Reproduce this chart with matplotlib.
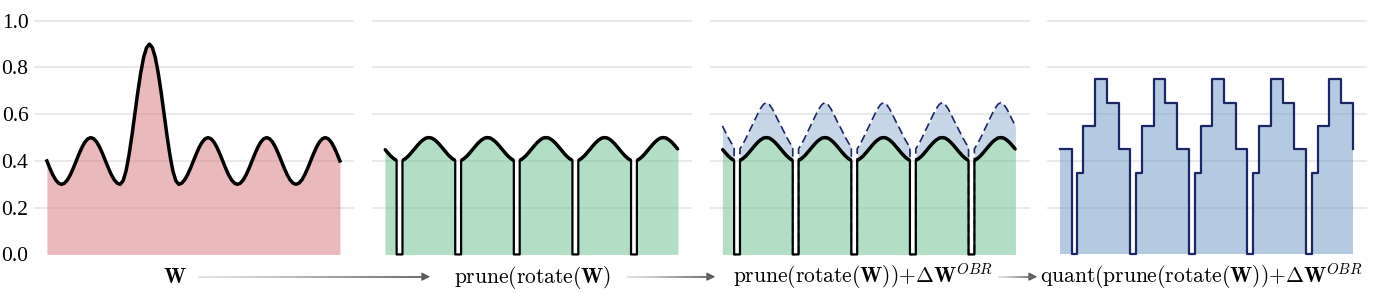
import numpy as np
import matplotlib
matplotlib.use('Agg')
import matplotlib.pyplot as plt
from matplotlib.collections import LineCollection
from matplotlib.patches import FancyArrowPatch

##############################################################################
# dados (x de 0 a 50, passo 0.5)
x_pos = np.linspace(0, 50, 101)

w_orig = [0.400, 0.369, 0.341, 0.319, 0.305, 0.300, 0.305, 0.319, 0.341, 0.369,
          0.400, 0.431, 0.459, 0.481, 0.495, 0.500, 0.495, 0.481, 0.459, 0.431,
          0.400, 0.369, 0.341, 0.319, 0.305, 0.300, 0.315, 0.357, 0.424, 0.507,
          0.600, 0.693, 0.776, 0.843, 0.885, 0.900, 0.885, 0.843, 0.776, 0.693,
          0.600, 0.507, 0.424, 0.357, 0.315, 0.300, 0.305, 0.319, 0.341, 0.369,
          0.400, 0.431, 0.459, 0.481, 0.495, 0.500, 0.495, 0.481, 0.459, 0.431,
          0.400, 0.369, 0.341, 0.319, 0.305, 0.300, 0.305, 0.319, 0.341, 0.369,
          0.400, 0.431, 0.459, 0.481, 0.495, 0.500, 0.495, 0.481, 0.459, 0.431,
          0.400, 0.369, 0.341, 0.319, 0.305, 0.300, 0.305, 0.319, 0.341, 0.369,
          0.400, 0.431, 0.459, 0.481, 0.495, 0.500, 0.495, 0.481, 0.459, 0.431,
          0.400]

w_rot = [0.450, 0.435, 0.421, 0.410, 0.402, 0.400, 0.402, 0.410, 0.421, 0.435,
         0.450, 0.465, 0.479, 0.490, 0.498, 0.500, 0.498, 0.490, 0.479, 0.465,
         0.450, 0.435, 0.421, 0.410, 0.402, 0.400, 0.402, 0.410, 0.421, 0.435,
         0.450, 0.465, 0.479, 0.490, 0.498, 0.500, 0.498, 0.490, 0.479, 0.465,
         0.450, 0.435, 0.421, 0.410, 0.402, 0.400, 0.402, 0.410, 0.421, 0.435,
         0.450, 0.465, 0.479, 0.490, 0.498, 0.500, 0.498, 0.490, 0.479, 0.465,
         0.450, 0.435, 0.421, 0.410, 0.402, 0.400, 0.402, 0.410, 0.421, 0.435,
         0.450, 0.465, 0.479, 0.490, 0.498, 0.500, 0.498, 0.490, 0.479, 0.465,
         0.450, 0.435, 0.421, 0.410, 0.402, 0.400, 0.402, 0.410, 0.421, 0.435,
         0.450, 0.465, 0.479, 0.490, 0.498, 0.500, 0.498, 0.490, 0.479, 0.465,
         0.450]

w_obr = [0.550, 0.525, 0.500, 0.478, 0.458, 0.450, 0.452, 0.472, 0.496, 0.522,
         0.548, 0.574, 0.600, 0.624, 0.642, 0.650, 0.642, 0.624, 0.600, 0.574,
         0.550, 0.525, 0.500, 0.478, 0.458, 0.450, 0.452, 0.472, 0.496, 0.522,
         0.548, 0.574, 0.600, 0.624, 0.642, 0.650, 0.642, 0.624, 0.600, 0.574,
         0.550, 0.525, 0.500, 0.478, 0.458, 0.450, 0.452, 0.472, 0.496, 0.522,
         0.548, 0.574, 0.600, 0.624, 0.642, 0.650, 0.642, 0.624, 0.600, 0.574,
         0.550, 0.525, 0.500, 0.478, 0.458, 0.450, 0.452, 0.472, 0.496, 0.522,
         0.548, 0.574, 0.600, 0.624, 0.642, 0.650, 0.642, 0.624, 0.600, 0.574,
         0.550, 0.525, 0.500, 0.478, 0.458, 0.450, 0.452, 0.472, 0.496, 0.522,
         0.548, 0.574, 0.600, 0.624, 0.642, 0.650, 0.642, 0.624, 0.600, 0.574,
         0.550]

prune_gaps = [(2, 3), (12, 13), (22, 23), (32, 33), (42, 43)]

quant_edges = [0, 2, 3, 4, 6, 8, 10, 12, 13, 14, 16, 18, 20, 22, 23, 24, 26, 28,
               30, 32, 33, 34, 36, 38, 40, 42, 43, 44, 46, 48, 50]
quant_levels = [0.45,
                0.0, 0.35, 0.55, 0.75, 0.65, 0.45,
                0.0, 0.35, 0.55, 0.75, 0.65, 0.45,
                0.0, 0.35, 0.55, 0.75, 0.65, 0.45,
                0.0, 0.35, 0.55, 0.75, 0.65, 0.45,
                0.0, 0.35, 0.55, 0.75, 0.65]
quant_end = 0.45

y_ticks = [0.0, 0.2, 0.4, 0.6, 0.8, 1.0]
y_tick_labels = ['0.0', '0.2', '0.4', '0.6', '0.8', '1.0']

labels = [r'$\mathbf{W}$',
          r'$\mathrm{prune}(\mathrm{rotate}(\mathbf{W})$',
          r'$\mathrm{prune}(\mathrm{rotate}(\mathbf{W})){+}\mathbf{\Delta W}^{OBR}$',
          r'$\mathrm{quant}(\mathrm{prune}(\mathrm{rotate}(\mathbf{W})){+}\mathbf{\Delta W}^{OBR}$']

##############################################################################
# estilo
PINK = '#d78085'
GREEN = '#73c397'
BLUE = '#779fc8'
NAVY = '#1c2566'
GRID = '#e4e4e4'

plt.rcParams['mathtext.fontset'] = 'cm'
plt.rcParams['font.family'] = 'serif'
plt.rcParams['font.serif'] = ['Liberation Serif', 'DejaVu Serif']

W, H = 1376, 293


def in_gap(x, gaps):
    return np.array([any(a < xi < b for a, b in gaps) for xi in x])


def prune_path(x, y, gaps):
    px, py = [], []
    for xi, yi in zip(x, y):
        if any(a < xi < b for a, b in gaps):
            continue
        start = [g for g in gaps if np.isclose(xi, g[0])]
        if start:
            a, b = start[0]
            px += [a, a, b]
            py += [yi, 0.0, 0.0]
        else:
            px.append(xi)
            py.append(yi)
    return np.array(px), np.array(py)


fig = plt.figure(figsize=(W / 100, H / 100), dpi=100)

ax_left_px = [34, 372, 709.5, 1047]
axes = []
for lp in ax_left_px:
    ax = fig.add_axes([lp / W, 0.1157, 320 / W, 0.8294])
    ax.set_xlim(-2.2, 52.4)
    ax.set_ylim(-0.02, 1.02)
    ax.set_yticks(y_ticks)
    ax.set_xticks([])
    ax.grid(axis='y', color=GRID, lw=1.1, zorder=0)
    ax.set_axisbelow(True)
    ax.yaxis.get_gridlines()[0].set_visible(False)
    for s in ax.spines.values():
        s.set_visible(False)
    ax.tick_params(axis='y', length=0, pad=4)
    ax.set_yticklabels([])
    axes.append(ax)

axes[0].set_yticklabels(y_tick_labels, fontsize=15.5)

# painel 1: W
ax = axes[0]
ax.fill_between(x_pos, w_orig, 0, color=PINK, alpha=0.55, lw=0, zorder=1)
ax.plot(x_pos, w_orig, color='black', lw=2.5, zorder=3)

# painel 2: prune(rotate(W))
mask = in_gap(x_pos, prune_gaps)
rx, ry = prune_path(x_pos, w_rot, prune_gaps)
ax = axes[1]
ax.fill_between(rx, ry, 0, color=GREEN, alpha=0.55, lw=0, zorder=1)
ax.plot(rx, ry, color='black', lw=1.6, zorder=3)
ax.plot(x_pos, np.ma.masked_where(mask, w_rot), color='black', lw=2.5,
        solid_capstyle='butt', zorder=4)

# painel 3: + delta W OBR
ox, oy = prune_path(x_pos, w_obr, prune_gaps)
ax = axes[2]
ax.fill_between(rx, ry, 0, color=GREEN, alpha=0.55, lw=0, zorder=1)
ax.fill_between(rx, ry, oy, color=BLUE, alpha=0.42, lw=0, zorder=1)
ax.plot(ox, oy, color=NAVY, lw=1.2, dashes=(5, 2.5), zorder=2)
ax.plot(rx, ry, color='black', lw=1.6, zorder=3)
ax.plot(x_pos, np.ma.masked_where(mask, w_rot), color='black', lw=2.5,
        solid_capstyle='butt', zorder=4)

# painel 4: quant(...)
ax = axes[3]
ax.fill_between(quant_edges, quant_levels + [quant_levels[-1]], 0, step='post',
                color=BLUE, alpha=0.55, lw=0, zorder=1)
ax.plot(quant_edges, quant_levels + [quant_end], drawstyle='steps-post',
        color=NAVY, lw=1.6, zorder=3)

# rotulos e setas
label_x = [175, 532.5, 862.5, 1201.7]
for lx, txt in zip(label_x, labels):
    fig.text(lx / W, 0.034, txt, ha='center', va='baseline', fontsize=15.5)

arrow_y = (H - 276.7) / H
arrows = [(198, 433), (627, 718), (998, 1040)]
for x0, x1 in arrows:
    xs = np.linspace(x0, x1 - 6, 60) / W
    segs = [[(xs[i], arrow_y), (xs[i + 1], arrow_y)] for i in range(len(xs) - 1)]
    cols = plt.cm.Greys(np.linspace(0.2, 0.7, len(segs)))
    lc = LineCollection(segs, colors=cols, lw=1.3, transform=fig.transFigure)
    fig.add_artist(lc)
    head = FancyArrowPatch(((x1 - 9) / W, arrow_y), (x1 / W, arrow_y),
                           arrowstyle='-|>', mutation_scale=12, color='#5a5a5a',
                           lw=1.0, transform=fig.transFigure)
    fig.add_artist(head)

fig.savefig('out.png', dpi=100)
